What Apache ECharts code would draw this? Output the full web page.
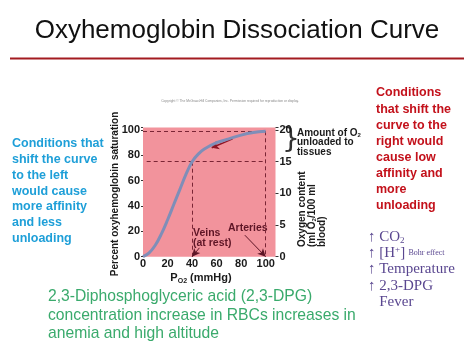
<!DOCTYPE html>
<html><head><meta charset="utf-8">
<script src="https://cdn.jsdelivr.net/npm/echarts@6/dist/echarts.min.js"></script>
<style>html,body{margin:0;padding:0;background:#fff}#c{width:474px;height:355px}</style>
</head><body><div id="c"></div>
<script>
// ---- data ----
const titleText = 'Oxyhemoglobin Dissociation Curve';
const po2 = [0, 5, 10, 15, 20, 25, 30, 35, 40, 45, 50, 60, 70, 80, 90, 100];
const saturation = [0, 3, 9, 18, 29, 41, 53, 65, 75, 81, 85, 90, 93, 96, 98, 99];
const leftTicks = [0, 20, 40, 60, 80, 100];
const rightTicks = [0, 5, 10, 15, 20];
const arterialPoint = [100, 99];
const venousPoint = [40, 75];
const leftNotes = ['Conditions that', 'shift the curve', 'to the left', 'would cause', 'more affinity', 'and less', 'unloading'];
const rightNotes = ['Conditions', 'that shift the', 'curve to the', 'right would', 'cause low', 'affinity and', 'more', 'unloading'];
const greenNotes = ['2,3-Diphosphoglyceric acid (2,3-DPG)', 'concentration increase in RBCs increases in', 'anemia and high altitude'];

const chart = echarts.init(document.getElementById('c'), null, {renderer: 'canvas'});
const dashColor = '#7a2535';
const maroon = '#5e1526';
const axisFont = {fontFamily: 'Liberation Sans, Arial, sans-serif', fontWeight: 'bold', fontSize: 11, color: '#1a1a1a'};

const seg = (a, b) => [{coord: a}, {coord: b}];

const option = {
  animation: false,
  backgroundColor: '#ffffff',
  grid: {left: 143, right: 198.5, top: 127.5, bottom: 98.3, show: true, backgroundColor: '#f2939c', borderWidth: 0},
  xAxis: {type: 'value', min: 0, max: 108, interval: 20,
    axisLine: {show: false}, axisTick: {show: false}, splitLine: {show: false},
    axisLabel: Object.assign({margin: 2, formatter: v => leftTicks.includes(v) ? v : ''}, axisFont)},
  yAxis: [
    {type: 'value', min: 0, max: 102, interval: 20,
      axisLine: {show: false}, axisTick: {show: true, length: 2, lineStyle: {color: '#333'}}, splitLine: {show: false},
      axisLabel: Object.assign({margin: 3, formatter: v => leftTicks.includes(v) ? v : ''}, axisFont)},
    {type: 'value', min: 0, max: 20.4, interval: 5, position: 'right',
      axisLine: {show: false}, axisTick: {show: true, length: 3, lineStyle: {color: '#333'}}, splitLine: {show: false},
      axisLabel: Object.assign({margin: 4, formatter: v => rightTicks.includes(v) ? v : ''}, axisFont)}
  ],
  series: [
    {type: 'line', data: po2.map((x, i) => [x, saturation[i]]), smooth: 0.4, showSymbol: false,
      lineStyle: {color: '#7f8eb8', width: 3}, z: 5,
      markLine: {silent: true, symbol: ['none', 'none'], label: {show: false},
        lineStyle: {color: dashColor, type: [4, 3], width: 1},
        data: [
          seg([0, arterialPoint[1]], arterialPoint),
          seg([3, venousPoint[1]], venousPoint.map((v, i) => i === 0 ? arterialPoint[0] : v)),
          seg(venousPoint, [venousPoint[0], 0]),
          seg(arterialPoint, [arterialPoint[0], 0])
        ]}},
    {type: 'line', data: [], markLine: {silent: true, symbol: ['none', 'arrow'], symbolSize: [6, 8], label: {show: false},
        lineStyle: {color: maroon, type: 'solid', width: 1},
        data: [seg([46, 7], [40, 0]), seg([83, 17], [100, 0])]}},
    {type: 'line', data: [], markLine: {silent: true, symbol: ['none', 'arrow'], symbolSize: [7, 7], label: {show: false},
        lineStyle: {color: '#8e1525', type: 'solid', width: 1.5},
        data: [seg([73, 93], [56, 86])]}}
  ],
  graphic: [
    {type: 'text', left: 'center', top: 18, style: {text: titleText, font: '26px "Liberation Sans", Arial, sans-serif', fill: '#111'}},
    {type: 'line', shape: {x1: 10, y1: 58.5, x2: 464, y2: 58.5}, style: {stroke: '#a31b20', lineWidth: 2}},
    {type: 'text', x: 230, y: 101, style: {text: 'Copyright © The McGraw-Hill Companies, Inc. Permission required for reproduction or display.', font: '3.3px Arial', fill: '#888', align: 'center', verticalAlign: 'middle'}},
    {type: 'text', x: 115, y: 194, rotation: Math.PI / 2, style: {text: 'Percent oxyhemoglobin saturation', font: 'bold 10px "Liberation Sans", Arial', fill: '#1a1a1a', align: 'center', verticalAlign: 'middle'}},
    {type: 'text', x: 201, y: 278, style: {text: '{a|P}{s|O2}{a| (mmHg)}', align: 'center', verticalAlign: 'middle',
      rich: {a: {font: 'bold 11px "Liberation Sans", Arial', fill: '#1a1a1a', verticalAlign: 'middle'}, s: {font: 'bold 7px "Liberation Sans", Arial', fill: '#1a1a1a', padding: [6, 0, 0, 0]}}}},
    {type: 'text', x: 302, y: 247, rotation: Math.PI / 2, style: {text: 'Oxygen content', font: 'bold 10px "Liberation Sans", Arial', fill: '#1a1a1a', align: 'left', verticalAlign: 'middle'}},
    {type: 'text', x: 312, y: 247, rotation: Math.PI / 2, style: {text: '{a|(ml O}{s|2}{a|/100 ml}', align: 'left', verticalAlign: 'middle',
      rich: {a: {font: 'bold 10px "Liberation Sans", Arial', fill: '#1a1a1a'}, s: {font: 'bold 6px "Liberation Sans", Arial', fill: '#1a1a1a', padding: [5, 0, 0, 0]}}}},
    {type: 'text', x: 322, y: 247, rotation: Math.PI / 2, style: {text: 'blood)', font: 'bold 10px "Liberation Sans", Arial', fill: '#1a1a1a', align: 'left', verticalAlign: 'middle'}},
    {type: 'text', x: 291, y: 141, style: {text: '}', font: '28px "DejaVu Sans", sans-serif', fill: '#333', align: 'center', verticalAlign: 'middle'}},
    {type: 'text', x: 297, y: 133, style: {text: '{a|Amount of O}{s|2}', verticalAlign: 'middle',
      rich: {a: {font: 'bold 10px "Liberation Sans", Arial', fill: '#1a1a1a'}, s: {font: 'bold 6px "Liberation Sans", Arial', fill: '#1a1a1a', padding: [5, 0, 0, 0]}}}},
    {type: 'text', x: 297, y: 142.5, style: {text: 'unloaded to', font: 'bold 10px "Liberation Sans", Arial', fill: '#1a1a1a', verticalAlign: 'middle'}},
    {type: 'text', x: 297, y: 152, style: {text: 'tissues', font: 'bold 10px "Liberation Sans", Arial', fill: '#1a1a1a', verticalAlign: 'middle'}},
    {type: 'text', x: 193, y: 233, style: {text: 'Veins', font: 'bold 10.5px "Liberation Sans", Arial', fill: maroon, verticalAlign: 'middle'}},
    {type: 'text', x: 193, y: 243, style: {text: '(at rest)', font: 'bold 10.5px "Liberation Sans", Arial', fill: maroon, verticalAlign: 'middle'}},
    {type: 'text', x: 228, y: 228, style: {text: 'Arteries', font: 'bold 10.5px "Liberation Sans", Arial', fill: maroon, verticalAlign: 'middle'}}
  ]
};

leftNotes.forEach((t, i) => option.graphic.push({type: 'text', x: 12, y: 144 + i * 15.7,
  style: {text: t, font: 'bold 12.5px "Liberation Sans Narrow", "Arial Narrow", Arial', fill: '#1e9fd8', verticalAlign: 'middle'}}));
rightNotes.forEach((t, i) => option.graphic.push({type: 'text', x: 376, y: 93 + i * 16.1,
  style: {text: t, font: 'bold 12.5px "Liberation Sans Narrow", "Arial Narrow", Arial', fill: '#c3111b', verticalAlign: 'middle'}}));
greenNotes.forEach((t, i) => option.graphic.push({type: 'text', x: 48, y: 297 + i * 18.3,
  style: {text: t, font: '15.7px "Liberation Sans", Arial', fill: '#3aaa6c', verticalAlign: 'middle'}}));

const serif = '"Liberation Serif", "Times New Roman", serif';
const purple = '#5a4790';
const purpleLines = [
  '{a|↑ CO}{s|2}',
  '{a|↑ [H}{p|+}{a|]} {b|Bohr effect}',
  '{a|↑ Temperature}',
  '{a|↑ 2,3-DPG}',
  '{a|   Fever}'
];
purpleLines.forEach((t, i) => option.graphic.push({type: 'text', x: 368, y: 237 + i * 16.2,
  style: {text: t, verticalAlign: 'middle', rich: {
    a: {font: '15px ' + serif, fill: purple},
    s: {font: '9px ' + serif, fill: purple, padding: [7, 0, 0, 0]},
    p: {font: '9px ' + serif, fill: purple, padding: [0, 0, 7, 0]},
    b: {font: '8px ' + serif, fill: purple}
  }}}));

chart.setOption(option);
</script></body></html>
